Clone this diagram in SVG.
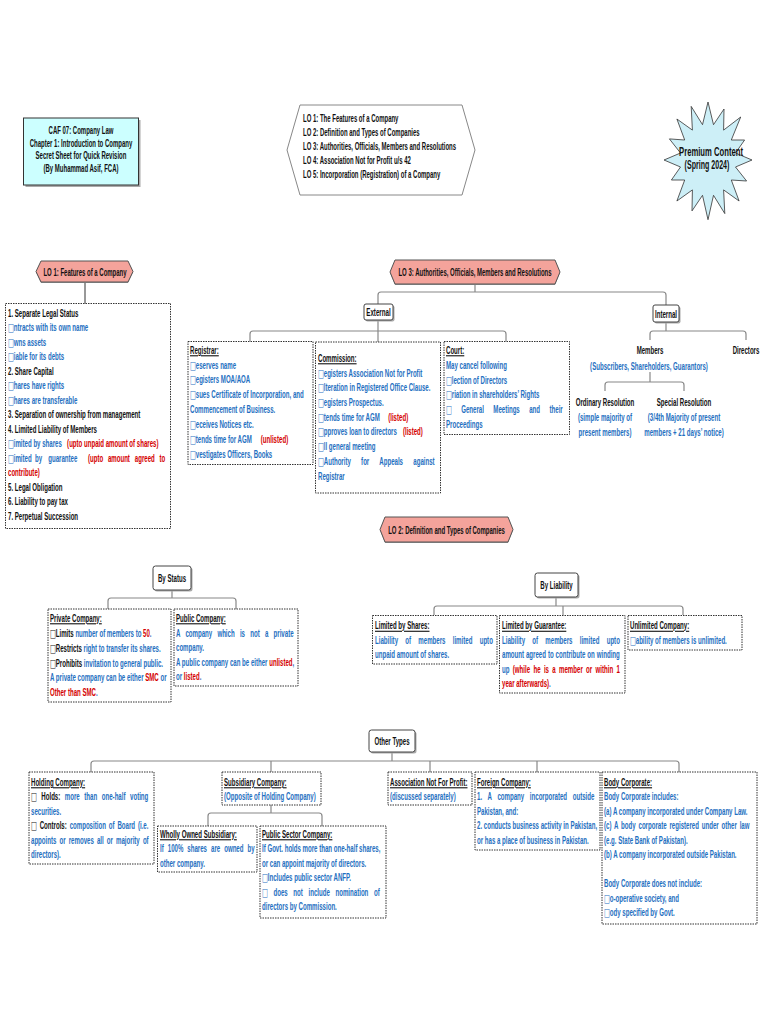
<svg xmlns="http://www.w3.org/2000/svg" width="768" height="1024" viewBox="0 0 768 1024">
<style>
.t{font-family:"Liberation Sans",Arial,sans-serif;font-size:11px;font-weight:bold;fill:#111}
.x{font-family:"DejaVu Sans",sans-serif;font-weight:normal}
.c{text-anchor:middle}
.b{fill:#1f70c1}
.r{fill:#d40000}
.k{fill:#111}
.u{text-decoration:underline}
.box{fill:#fff;stroke:#333;stroke-width:1;stroke-dasharray:1.5 1}
.lbl{fill:#fff;stroke:#444;stroke-width:1}
.sh{fill:#aaa}
.hex{fill:#f4a39b;stroke:#555;stroke-width:1}
.con{fill:none;stroke:#888;stroke-width:1.2}
</style>
<rect width="768" height="1024" fill="#fff"/>

<g id="title">
<rect x="25.5" y="120" width="115" height="67" class="sh"/>
<rect x="23.5" y="118" width="115" height="67" fill="#ccffff" stroke="#333" stroke-width="1"/>
<text class="t c" transform="translate(81,134) scale(0.545,1)">CAF 07: Company Law</text>
<text class="t c" transform="translate(81,147) scale(0.545,1)">Chapter 1: Introduction to Company</text>
<text class="t c" transform="translate(81,159) scale(0.545,1)">Secret Sheet for Quick Revision</text>
<text class="t c" transform="translate(81,172) scale(0.545,1)">(By Muhammad Asif, FCA)</text>
</g>

<g id="lo-list">
<path d="M300,105 H462 L475,150 L462,195 H300 L287,150 Z" fill="#fff" stroke="#888" stroke-width="1"/>
<g transform="translate(303,0) scale(0.545,1)">
<text class="t" x="0" y="122">LO 1: The Features of a Company</text>
<text class="t" x="0" y="136">LO 2: Definition and Types of Companies</text>
<text class="t" x="0" y="150.5">LO 3: Authorities, Officials, Members and Resolutions</text>
<text class="t" x="0" y="164">LO 4: Association Not for Profit u/s 42</text>
<text class="t" x="0" y="178">LO 5: Incorporation (Registration) of a Company</text>
</g>
</g>

<g id="premium">
<polygon points="708,102 713.5,124.7 724,109 723.6,130.1 740.7,117 731.3,140 744.6,140 735.5,153 752,160 735.5,167 746.6,181 731.3,180 739.1,201 723.6,189.9 724.8,213.6 713.5,195.3 708,219.7 702.5,195.3 692,210.9 692.4,189.9 676.9,201 684.7,180 671.4,180 680.5,167 664,160 680.5,153 669.4,138.9 684.7,140 676.9,119 692.4,130.1 691.2,106.4 702.5,124.7" fill="#cdeff7" stroke="#333" stroke-width="0.8"/>
<text class="t c" style="font-size:12px" transform="translate(711,156) scale(0.64,1)">Premium Content</text>
<text class="t c" style="font-size:12px" transform="translate(707,169) scale(0.59,1)">(Spring 2024)</text>
</g>

<g id="connectors">
<path d="M85,282 V304" fill="none" stroke="#333" stroke-width="1"/>
<path class="con" d="M475,284 V292"/>
<path class="con" d="M378,304 V295 Q378,292 381,292 H663 Q666,292 666,295 V305"/>
<path class="con" d="M378,320 V342"/>
<path class="con" d="M250,341 V334 Q250,331 253,331 H503 Q506,331 506,334 V341"/>
<path class="con" d="M666,322 V331"/>
<path class="con" d="M650,340 V334 Q650,331 653,331 H743 Q746,331 746,334 V340"/>
<path class="con" d="M650,372 V382"/>
<path class="con" d="M605,391 V385 Q605,382 608,382 H681 Q684,382 684,385 V391"/>
<path class="con" d="M172,590 V598"/>
<path class="con" d="M108,609 V601 Q108,598 111,598 H233 Q236,598 236,601 V609"/>
<path class="con" d="M556,597 V606"/>
<path class="con" d="M434,615 V609 Q434,606 437,606 H680 Q683,606 683,609 V615"/>
<path class="con" d="M563,606 V615"/>
<path class="con" d="M392,752 V761"/>
<path class="con" d="M91,772 V764 Q91,761 94,761 H676 Q679,761 679,764 V772"/>
<path class="con" d="M271,761 V772 M430,761 V772 M537,761 V772"/>
<path class="con" d="M271,805 V813"/>
<path class="con" d="M208,826 V816 Q208,813 211,813 H319 Q322,813 322,816 V826"/>
</g>

<g id="lo1">
<path d="M41,262 H128 L133,272.5 L128,283 H41 L36,272.5 Z" fill="#999"/>
<path class="hex" d="M41,261 H128 L133,271.5 L128,282 H41 L36,271.5 Z"/>
<text class="t c" transform="translate(85,275.5) scale(0.545,1)">LO 1: Features of a Company</text>
</g>

<g id="lo1-features">
<rect class="box" x="5.5" y="303.5" width="165" height="225"/>
<g transform="translate(8,0) scale(0.555,1)">
<text class="t" x="0" y="317">1. Separate Legal Status</text>
<text class="t b" x="0" y="331.5"><tspan class="x">□</tspan>ntracts with its own name</text>
<text class="t b" x="0" y="346"><tspan class="x">□</tspan>wns assets</text>
<text class="t b" x="0" y="360.5"><tspan class="x">□</tspan>iable for its debts</text>
<text class="t" x="0" y="375">2. Share Capital</text>
<text class="t b" x="0" y="389.5"><tspan class="x">□</tspan>hares have rights</text>
<text class="t b" x="0" y="404"><tspan class="x">□</tspan>hares are transferable</text>
<text class="t" x="0" y="418.5">3. Separation of ownership from management</text>
<text class="t" x="0" y="433">4. Limited Liability of Members</text>
<text class="t b" x="0" y="447.5"><tspan class="x">□</tspan>imited by shares<tspan class="r" x="106.5">(upto unpaid amount of shares)</tspan></text>
<text class="t b" x="0" y="462"><tspan class="x">□</tspan>imited<tspan x="48.5">by</tspan><tspan x="72.5">guarantee</tspan><tspan class="r" x="144">(upto</tspan><tspan class="r" x="180">amount</tspan><tspan class="r" x="228.5">agreed</tspan><tspan class="r" x="273">to</tspan></text>
<text class="t r" x="0" y="476.5">contribute)</text>
<text class="t" x="0" y="491">5. Legal Obligation</text>
<text class="t" x="0" y="505.5">6. Liability to pay tax</text>
<text class="t" x="0" y="520">7. Perpetual Succession</text>
</g>
</g>

<g id="lo3">
<path d="M395,261 H555 L560,273 L555,285 H395 L390,273 Z" fill="#999"/>
<path class="hex" d="M395,260 H555 L560,272 L555,284 H395 L390,272 Z"/>
<text class="t c" transform="translate(475,276) scale(0.545,1)">LO 3: Authorities, Officials, Members and Resolutions</text>
</g>

<g id="external">
<rect x="365.5" y="305.5" width="29" height="16" rx="2" class="sh"/>
<rect x="364" y="304" width="29" height="16" rx="2" class="lbl"/>
<text class="t c" transform="translate(378.5,316) scale(0.564,1)">External</text>
</g>

<g id="registrar">
<rect class="box" x="188" y="341.5" width="125" height="123"/>
<g transform="translate(190,0) scale(0.555,1)">
<text class="t u" x="0" y="354">Registrar:</text>
<text class="t b" x="0" y="369"><tspan class="x">□</tspan>eserves name</text>
<text class="t b" x="0" y="383.5"><tspan class="x">□</tspan>egisters MOA/AOA</text>
<text class="t b" x="0" y="398.5"><tspan class="x">□</tspan>sues Certificate of Incorporation, and</text>
<text class="t b" x="0" y="413.5">Commencement of Business.</text>
<text class="t b" x="0" y="428.5"><tspan class="x">□</tspan>eceives Notices etc.</text>
<text class="t b" x="0" y="443"><tspan class="x">□</tspan>tends time for AGM<tspan class="r" x="127.5">(unlisted)</tspan></text>
<text class="t b" x="0" y="458"><tspan class="x">□</tspan>vestigates Officers, Books</text>
</g>
</g>

<g id="commission">
<rect class="box" x="315.5" y="342" width="125" height="151"/>
<g transform="translate(318,0) scale(0.555,1)">
<text class="t u" x="0" y="362">Commission:</text>
<text class="t b" x="0" y="377"><tspan class="x">□</tspan>egisters Association Not for Profit</text>
<text class="t b" x="0" y="391.5"><tspan class="x">□</tspan>lteration in Registered Office Clause.</text>
<text class="t b" x="0" y="406"><tspan class="x">□</tspan>egisters Prospectus.</text>
<text class="t b" x="0" y="421"><tspan class="x">□</tspan>tends time for AGM<tspan class="r" x="126.5">(listed)</tspan></text>
<text class="t b" x="0" y="435.5"><tspan class="x">□</tspan>pproves loan to directors<tspan class="r" x="153">(listed)</tspan></text>
<text class="t b" x="0" y="450.5"><tspan class="x">□</tspan>ll general meeting</text>
<text class="t b" x="0" y="465.5" style="word-spacing:15.5px"><tspan class="x">□</tspan>Authority for Appeals against</text>
<text class="t b" x="0" y="480">Registrar</text>
</g>
</g>

<g id="court">
<rect class="box" x="444" y="341.5" width="125.5" height="93"/>
<g transform="translate(446,0) scale(0.555,1)">
<text class="t u" x="0" y="354">Court:</text>
<text class="t b" x="0" y="369">May cancel following</text>
<text class="t b" x="0" y="384"><tspan class="x">□</tspan>lection of Directors</text>
<text class="t b" x="0" y="398.5"><tspan class="x">□</tspan>riation in shareholders’ Rights</text>
<text class="t b" x="0" y="413.5" style="word-spacing:14px"><tspan class="x">□</tspan> General Meetings and their</text>
<text class="t b" x="0" y="428">Proceedings</text>
</g>
</g>

<g id="internal">
<rect x="654.5" y="306.5" width="26" height="17" rx="2" class="sh"/>
<rect x="653" y="305" width="26" height="17" rx="2" class="lbl"/>
<text class="t c" transform="translate(666,317.5) scale(0.555,1)">Internal</text>
</g>

<g id="members">
<text class="t c" transform="translate(650,354) scale(0.555,1)">Members</text>
<text class="t c b" transform="translate(649,369.5) scale(0.555,1)">(Subscribers, Shareholders, Guarantors)</text>
</g>

<g id="directors">
<text class="t c" transform="translate(746,354) scale(0.555,1)">Directors</text>
</g>

<g id="ordinary-resolution">
<text class="t c" transform="translate(605,405.5) scale(0.555,1)">Ordinary Resolution</text>
<text class="t c b" transform="translate(605,420.5) scale(0.555,1)">(simple majority of</text>
<text class="t c b" transform="translate(605,435.5) scale(0.555,1)">present members)</text>
</g>

<g id="special-resolution">
<text class="t c" transform="translate(684,405.5) scale(0.555,1)">Special Resolution</text>
<text class="t c b" transform="translate(684,420.5) scale(0.555,1)">(3/4th Majority of present</text>
<text class="t c b" transform="translate(684,435.5) scale(0.555,1)">members + 21 days’ notice)</text>
</g>

<g id="lo2">
<path d="M385,518 H508 L513,530.5 L508,543 H385 L380,530.5 Z" fill="#999"/>
<path class="hex" d="M385,517 H508 L513,529.5 L508,542 H385 L380,529.5 Z"/>
<text class="t c" transform="translate(446.5,533.5) scale(0.545,1)">LO 2: Definition and Types of Companies</text>
</g>

<g id="by-status">
<rect x="154.5" y="567.5" width="38" height="24" rx="2.5" class="sh"/>
<rect x="153" y="566" width="38" height="24" rx="2.5" class="lbl"/>
<text class="t c" transform="translate(172,582) scale(0.555,1)">By Status</text>
</g>

<g id="private-company">
<rect class="box" x="48" y="609" width="123" height="93"/>
<g transform="translate(50,0) scale(0.555,1)">
<text class="t u" x="0" y="622">Private Company:</text>
<text class="t b" x="0" y="637"><tspan class="k"><tspan class="x">□</tspan>Limits</tspan> number of members to <tspan class="r">50</tspan>.</text>
<text class="t b" x="0" y="652"><tspan class="k"><tspan class="x">□</tspan>Restricts</tspan> right to transfer its shares.</text>
<text class="t b" x="0" y="667"><tspan class="k"><tspan class="x">□</tspan>Prohibits</tspan> invitation to general public.</text>
<text class="t b" x="0" y="681.5">A private company can be either <tspan class="r">SMC</tspan> or</text>
<text class="t r" x="0" y="696.5">Other than SMC<tspan class="b">.</tspan></text>
</g>
</g>

<g id="public-company">
<rect class="box" x="174" y="609" width="124" height="77"/>
<g transform="translate(176,0) scale(0.555,1)">
<text class="t u" x="0" y="622">Public Company:</text>
<text class="t b" x="0" y="637" style="word-spacing:6.4px">A company which is not a private</text>
<text class="t b" x="0" y="651.5">company.</text>
<text class="t b" x="0" y="666">A public company can be either <tspan class="r">unlisted</tspan>,</text>
<text class="t b" x="0" y="680.5">or <tspan class="r">listed</tspan>.</text>
</g>
</g>

<g id="by-liability">
<rect x="536.5" y="574.5" width="43" height="24" rx="2.5" class="sh"/>
<rect x="535" y="573" width="43" height="24" rx="2.5" class="lbl"/>
<text class="t c" transform="translate(556.5,589) scale(0.555,1)">By Liability</text>
</g>

<g id="limited-by-shares">
<rect class="box" x="372.5" y="615.5" width="124.5" height="48.5"/>
<g transform="translate(375,0) scale(0.555,1)">
<text class="t u" x="0" y="629.5">Limited by Shares:</text>
<text class="t b" x="0" y="644" style="word-spacing:10.1px">Liability of members limited upto</text>
<text class="t b" x="0" y="658.5">unpaid amount of shares.</text>
</g>
</g>

<g id="limited-by-guarantee">
<rect class="box" x="499.5" y="615.5" width="125.5" height="77.5"/>
<g transform="translate(502,0) scale(0.555,1)">
<text class="t u" x="0" y="629.5">Limited by Guarantee:</text>
<text class="t b" x="0" y="644" style="word-spacing:10.1px">Liability of members limited upto</text>
<text class="t b" x="0" y="658.5" style="word-spacing:0.5px">amount agreed to contribute on winding</text>
<text class="t b" x="0" y="673" style="word-spacing:3px">up <tspan class="r">(while he is a member or within 1</tspan></text>
<text class="t r" x="0" y="687.5">year afterwards)<tspan class="b">.</tspan></text>
</g>
</g>

<g id="unlimited-company">
<rect class="box" x="628" y="615.5" width="114" height="34.5"/>
<g transform="translate(630,0) scale(0.555,1)">
<text class="t u" x="0" y="629.5">Unlimited Company:</text>
<text class="t b" x="0" y="644"><tspan class="x">□</tspan>ability of members is unlimited.</text>
</g>
</g>

<g id="other-types">
<rect x="370.5" y="731.5" width="46" height="22" rx="2.5" class="sh"/>
<rect x="369" y="730" width="46" height="22" rx="2.5" class="lbl"/>
<text class="t c" transform="translate(392,745) scale(0.555,1)">Other Types</text>
</g>

<g id="holding-company">
<rect class="box" x="29" y="772" width="125" height="92"/>
<g transform="translate(31,0) scale(0.555,1)">
<text class="t u" x="0" y="786">Holding Company:</text>
<text class="t b" x="0" y="800.5" style="word-spacing:5.2px"><tspan class="k"><tspan class="x">□</tspan> Holds:</tspan> more than one-half voting</text>
<text class="t b" x="0" y="815">securities.</text>
<text class="t b" x="0" y="829.5" style="word-spacing:2.2px"><tspan class="k"><tspan class="x">□</tspan> Controls:</tspan> composition of Board (i.e.</text>
<text class="t b" x="0" y="844" style="word-spacing:2.6px">appoints or removes all or majority of</text>
<text class="t b" x="0" y="858.5">directors).</text>
</g>
</g>

<g id="subsidiary-company">
<rect class="box" x="222" y="772" width="99" height="33"/>
<g transform="translate(224,0) scale(0.555,1)">
<text class="t u" x="0" y="786">Subsidiary Company:</text>
<text class="t b" x="0" y="800.5">(Opposite of Holding Company)</text>
</g>
</g>

<g id="wholly-owned-subsidiary">
<rect class="box" x="157.5" y="826" width="99.5" height="46"/>
<g transform="translate(160,0) scale(0.555,1)">
<text class="t u" x="0" y="838">Wholly Owned Subsidiary:</text>
<text class="t b" x="0" y="852.5" style="word-spacing:4.2px">If 100% shares are owned by</text>
<text class="t b" x="0" y="867">other company.</text>
</g>
</g>

<g id="public-sector-company">
<rect class="box" x="260" y="826" width="126" height="92"/>
<g transform="translate(262,0) scale(0.555,1)">
<text class="t u" x="0" y="838">Public Sector Company:</text>
<text class="t b" x="0" y="852.5">If Govt. holds more than one-half shares,</text>
<text class="t b" x="0" y="867">or can appoint majority of directors.</text>
<text class="t b" x="0" y="881.5"><tspan class="x">□</tspan>Includes public sector ANFP.</text>
<text class="t b" x="0" y="896" style="word-spacing:7.2px"><tspan class="x">□</tspan> does not include nomination of</text>
<text class="t b" x="0" y="910.5">directors by Commission.</text>
</g>
</g>

<g id="association-not-for-profit">
<rect class="box" x="388" y="772" width="84" height="33"/>
<g transform="translate(390,0) scale(0.555,1)">
<text class="t u" x="0" y="786">Association Not For Profit:</text>
<text class="t b" x="0" y="800.5">(discussed separately)</text>
</g>
</g>

<g id="foreign-company">
<rect class="box" x="475" y="772" width="125" height="78"/>
<g transform="translate(477,0) scale(0.555,1)">
<text class="t u" x="0" y="786">Foreign Company:</text>
<text class="t b" x="0" y="800.5" style="word-spacing:7.2px">1. A company incorporated outside</text>
<text class="t b" x="0" y="815">Pakistan, and:</text>
<text class="t b" x="0" y="829.5">2. conducts business activity in Pakistan,</text>
<text class="t b" x="0" y="844">or has a place of business in Pakistan.</text>
</g>
</g>

<g id="body-corporate">
<rect class="box" x="602" y="772" width="155" height="152"/>
<g transform="translate(604,0) scale(0.555,1)">
<text class="t u" x="0" y="786">Body Corporate:</text>
<text class="t b" x="0" y="800.5">Body Corporate includes:</text>
<text class="t b" x="0" y="815">(a) A company incorporated under Company Law.</text>
<text class="t b" x="0" y="829.5" style="word-spacing:2.1px">(c) A body corporate registered under other law</text>
<text class="t b" x="0" y="844">(e.g. State Bank of Pakistan).</text>
<text class="t b" x="0" y="858.5">(b) A company incorporated outside Pakistan.</text>
<text class="t b" x="0" y="887.5">Body Corporate does not include:</text>
<text class="t b" x="0" y="902"><tspan class="x">□</tspan>o-operative society, and</text>
<text class="t b" x="0" y="916.5"><tspan class="x">□</tspan>ody specified by Govt.</text>
</g>
</g>
</svg>
